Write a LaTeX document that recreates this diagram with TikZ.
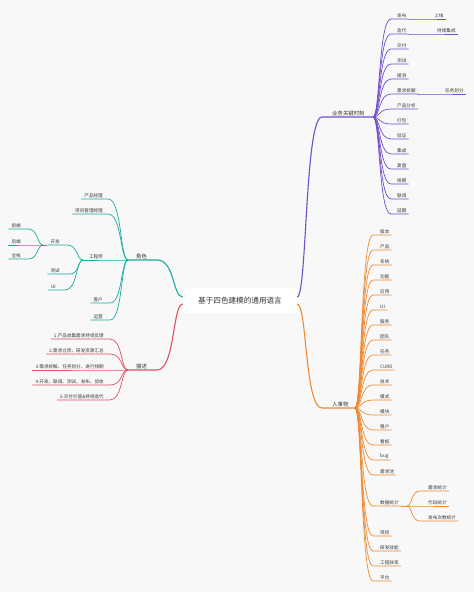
\documentclass[tikz,border=0pt]{standalone}
\usepackage{fontspec}
\setmainfont{Noto Sans CJK SC}
\usetikzlibrary{calc}
\definecolor{bg}{RGB}{248,248,248}
\definecolor{txt}{RGB}{55,55,55}
\definecolor{pu}{RGB}{114,78,204}
\definecolor{or}{RGB}{239,138,50}
\definecolor{te}{RGB}{27,171,158}
\definecolor{re}{RGB}{226,80,102}
\tikzset{
  lab/.style={font=\fontsize{4.6}{5.5}\selectfont, text=txt, inner xsep=0pt, inner ysep=1pt},
  lab1/.style={font=\fontsize{5.4}{6.5}\selectfont, text=txt, inner xsep=0pt, inner ysep=1.2pt},
  cl/.style={line width=0.7pt},
  ml/.style={line width=1.1pt},
  mm/.style={to path={let \p1=(\tikztostart), \p2=(\tikztotarget) in
     .. controls (0.6*\x1+0.4*\x2,\y1) and (0.7*\x1+0.3*\x2,\y2) .. (\p2) \tikztonodes}}
}
% right child: [pad] color, parent, name, x start, y, text
\newcommand\RC[7][6pt]{%
  \coordinate (#4-s) at (#5,#6);
  \node[lab, anchor=south west, xshift=#1] (#4) at (#4-s) {#7};
  \coordinate (#4-e) at ([xshift=2pt]#4.south east);
  \draw[#2, cl] (#3) to[mm] (#4-s) -- (#4-e);
}
% left child: [pad] color, parent, name, x end, y, text
\newcommand\LC[7][5pt]{%
  \coordinate (#4-e) at (#5,#6);
  \node[lab, anchor=south east, xshift=-#1] (#4) at (#4-e) {#7};
  \coordinate (#4-s) at ([xshift=-3pt]#4.south west);
  \draw[#2, cl] (#3) to[mm] (#4-e) -- (#4-s);
}
\begin{document}
\begin{tikzpicture}[x=1pt,y=-1pt]
\useasboundingbox (0,0) rectangle (474,592);
\fill[bg] (0,0) rectangle (474,592);

% centre
\node[fill=white, rounded corners=2pt, minimum width=114pt, minimum height=25pt,
      inner sep=0pt, font=\fontsize{7.6}{9}\selectfont, text=txt] (c) at (240,300.5) {基于四色建模的通用语言};
\coordinate (c-pu) at ([yshift=3.5pt]c.east);
\coordinate (c-or) at ([yshift=-3.5pt]c.east);
\coordinate (c-te) at ([yshift=3.5pt]c.west);
\coordinate (c-re) at ([yshift=-3.5pt]c.west);

% ---------- purple: 业务关键时刻 ----------
\coordinate (ywgj-s) at (322,117);
\coordinate (H1) at (373,117);
\node[lab1, anchor=south west] (ywgj) at (332,117) {业务关键时刻};
\draw[pu, ml] (c-pu) to[mm] (ywgj-s) -- (H1);
\RC{pu}{H1}{fb}{391}{19}{发布}
\RC{pu}{H1}{dd}{391}{34}{迭代}
\RC{pu}{H1}{jf}{391}{49}{交付}
\RC{pu}{H1}{cs}{391}{64}{测试}
\RC{pu}{H1}{tc}{391}{79}{提测}
\RC{pu}{H1}{xqcj}{391}{94}{需求拆解}
\RC{pu}{H1}{cpfx}{391}{109}{产品分析}
\RC{pu}{H1}{db}{391}{124}{打包}
\RC{pu}{H1}{yz}{391}{139}{验证}
\RC{pu}{H1}{jc}{391}{154}{集成}
\RC{pu}{H1}{fp}{391}{169}{复盘}
\RC{pu}{H1}{pq}{391}{184}{排期}
\RC{pu}{H1}{lt}{391}{199}{联调}
\RC{pu}{H1}{yq}{391}{214}{延期}
\RC{pu}{fb-e}{sx}{428}{19}{上线}
\RC{pu}{dd-e}{cxjc}{431}{34}{持续集成}
\RC{pu}{xqcj-e}{rwhf}{439}{94}{任务划分}

% ---------- orange: 人事物 ----------
\coordinate (rsw-s) at (322,408);
\coordinate (H2) at (355,408);
\node[lab1, anchor=south west] (rsw) at (332,408) {人事物};
\draw[or, ml] (c-or) to[mm] (rsw-s) -- (H2);
\foreach \t [count=\i from 0] in {版本,产品,系统,功能,应用,UI,服务,团队,任务,CURD,技术,模式,模块,租户,看板,bug,需求池}{
  \RC[7pt]{or}{H2}{o\i}{373}{235+15*\i}{\t}
}
\RC[7pt]{or}{H2}{sjtj}{373}{506}{数据统计}
\RC[7pt]{or}{H2}{xm}{373}{536}{项目}
\RC[7pt]{or}{H2}{yfxn}{373}{551}{研发效能}
\RC[7pt]{or}{H2}{gcxl}{373}{566}{工程效率}
\RC[7pt]{or}{H2}{pt}{373}{581}{平台}
\coordinate (sjtj-h) at (407,506);
\draw[or, cl] (sjtj-e) -- (sjtj-h);
\RC[8pt]{or}{sjtj-h}{xqtj}{420}{491}{需求统计}
\RC[8pt]{or}{sjtj-h}{dmtj}{420}{506}{代码统计}
\RC[8pt]{or}{sjtj-h}{fbcs}{420}{521}{发布次数统计}

% ---------- teal: 角色 ----------
\coordinate (H3) at (128,260);
\coordinate (js-e) at (157,260);
\node[lab1, anchor=south west] (js) at (136,260) {角色};
\draw[te, ml] (c-te) to[mm] (js-e) -- (H3);
\LC{te}{H3}{cpjl}{108}{199}{产品经理}
\LC{te}{H3}{xmgl}{108}{214}{项目管理经理}
\LC[7pt]{te}{H3}{gcs}{110}{260}{工程师}
\LC[7pt]{te}{H3}{kh}{110}{303}{客户}
\LC[7pt]{te}{H3}{yy}{110}{320}{运营}
\coordinate (gcs-h) at (83,260);
\draw[te, cl] (gcs-s) -- (gcs-h);
\LC[7pt]{te}{gcs-h}{kf}{67}{245}{开发}
\LC[10pt]{te}{gcs-h}{cs2}{70}{274}{测试}
\LC[9pt]{te}{gcs-h}{ui}{65}{290}{UI}
\coordinate (kf-h) at (43,245);
\draw[te, cl] (kf-s) -- (kf-h);
\LC[7pt]{te}{kf-h}{qd}{28}{229}{前端}
\LC[7pt]{te}{kf-h}{hd}{28}{245}{后端}
\LC[7pt]{te}{kf-h}{qz}{28}{259}{全栈}

% ---------- red: 描述 ----------
\coordinate (H4) at (128,370);
\coordinate (ms-e) at (157,370);
\node[lab1, anchor=south west] (ms) at (136,370) {描述};
\draw[re, ml] (c-re) to[mm] (ms-e) -- (H4);
\LC[6pt]{re}{H4}{r1}{110}{339}{1.产品收集需求持续反馈}
\LC[6pt]{re}{H4}{r2}{110}{354}{2.需求立项、研发资源汇总}
\LC[6pt]{re}{H4}{r3}{110}{370}{3.需求拆解、任务划分、进行排期}
\LC[6pt]{re}{H4}{r4}{110}{385}{4.开发、联调、测试、发布、验收}
\LC[6pt]{re}{H4}{r5}{110}{400}{5.交付价值\&持续迭代}
\end{tikzpicture}
\end{document}
